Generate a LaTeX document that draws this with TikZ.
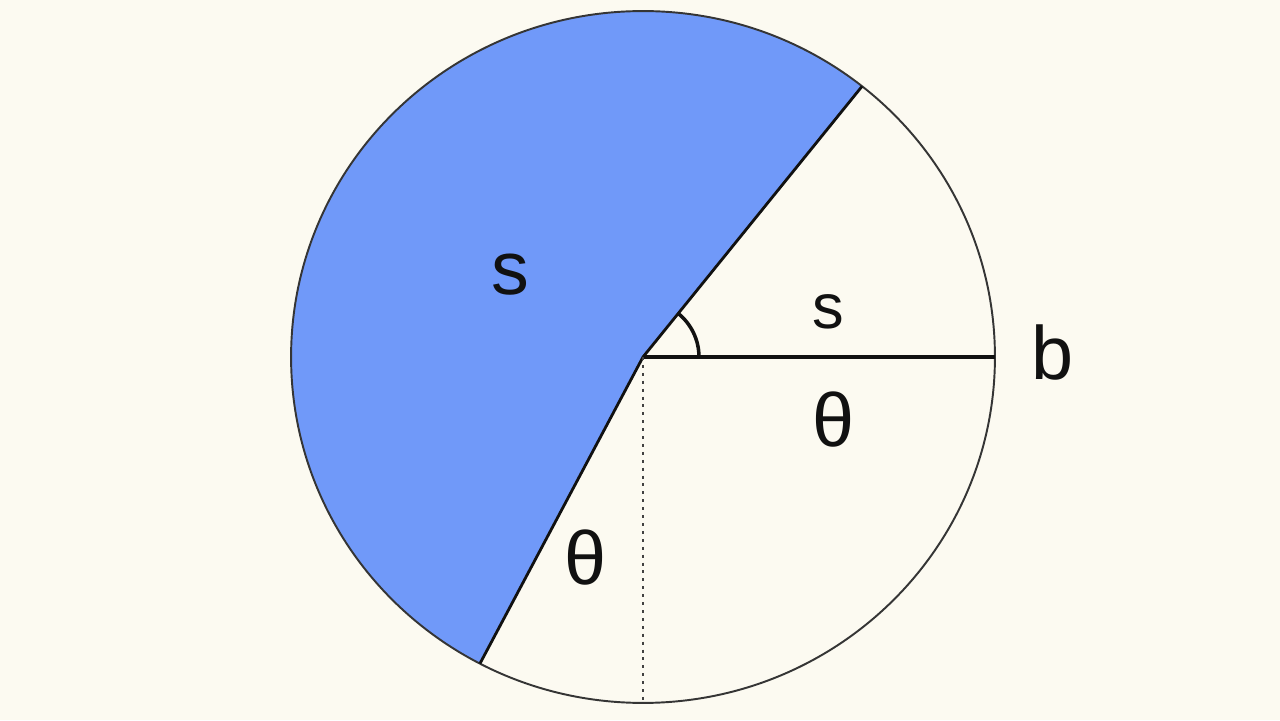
\documentclass[tikz,border=0pt]{standalone}
\usepackage{fontspec}
\setmainfont{Liberation Sans}
\usetikzlibrary{calc}
\definecolor{bg}{HTML}{FCFAF1}
\definecolor{sector}{HTML}{7099F9}
\definecolor{ink}{HTML}{111111}
\begin{document}
\begin{tikzpicture}[x=0.02cm,y=0.02cm,
  lbl/.style={inner sep=0pt,text=ink},
  big/.style={lbl,font=\fontsize{43}{50}\selectfont},
  mid/.style={lbl,font=\fontsize{36}{42}\selectfont},
  rim/.style={draw=ink!85,line width=1.1pt},
  edge/.style={draw=ink,line width=1.6pt},
  radius line/.style={draw=ink,line width=2pt},
  dotline/.style={draw=ink!80,line width=1.5pt,dash pattern=on 1.7pt off 2.8pt},
  anglearc/.style={draw=ink,line width=2pt}]
\fill[bg] (0,0) rectangle (1280,720);
\useasboundingbox (0,0) rectangle (1280,720);
\coordinate (C) at (643,363);
\coordinate (P1) at ($(C)+(51.5:7.04cm and 6.92cm)$);
\coordinate (P2) at ($(C)+(242.4:7.04cm and 6.92cm)$);
\coordinate (E) at (995,363);
\coordinate (B) at (643,17);
\coordinate (A0) at ($(C)+(1.12cm,0)$);
\fill[sector] (C) -- (P1) arc[start angle=51.5,end angle=242.4,x radius=7.04cm,y radius=6.92cm] -- cycle;
\draw[rim] (C) ellipse[x radius=7.04cm,y radius=6.92cm];
\draw[edge] (P1) -- (C) -- (P2);
\draw[radius line] (C) -- (E);
\draw[dotline] (C) -- (B);
\draw[anglearc] (A0) arc[start angle=0,end angle=51.5,radius=1.12cm];
\node[big] (s1) at (510,445) {s};
\node[mid] (s2) at (828,408) {s};
\node[big] (b) at (1052,368) {b};
\node[big] (t1) at (833,300) {θ};
\node[big] (t2) at (585,162) {θ};
\end{tikzpicture}
\end{document}
